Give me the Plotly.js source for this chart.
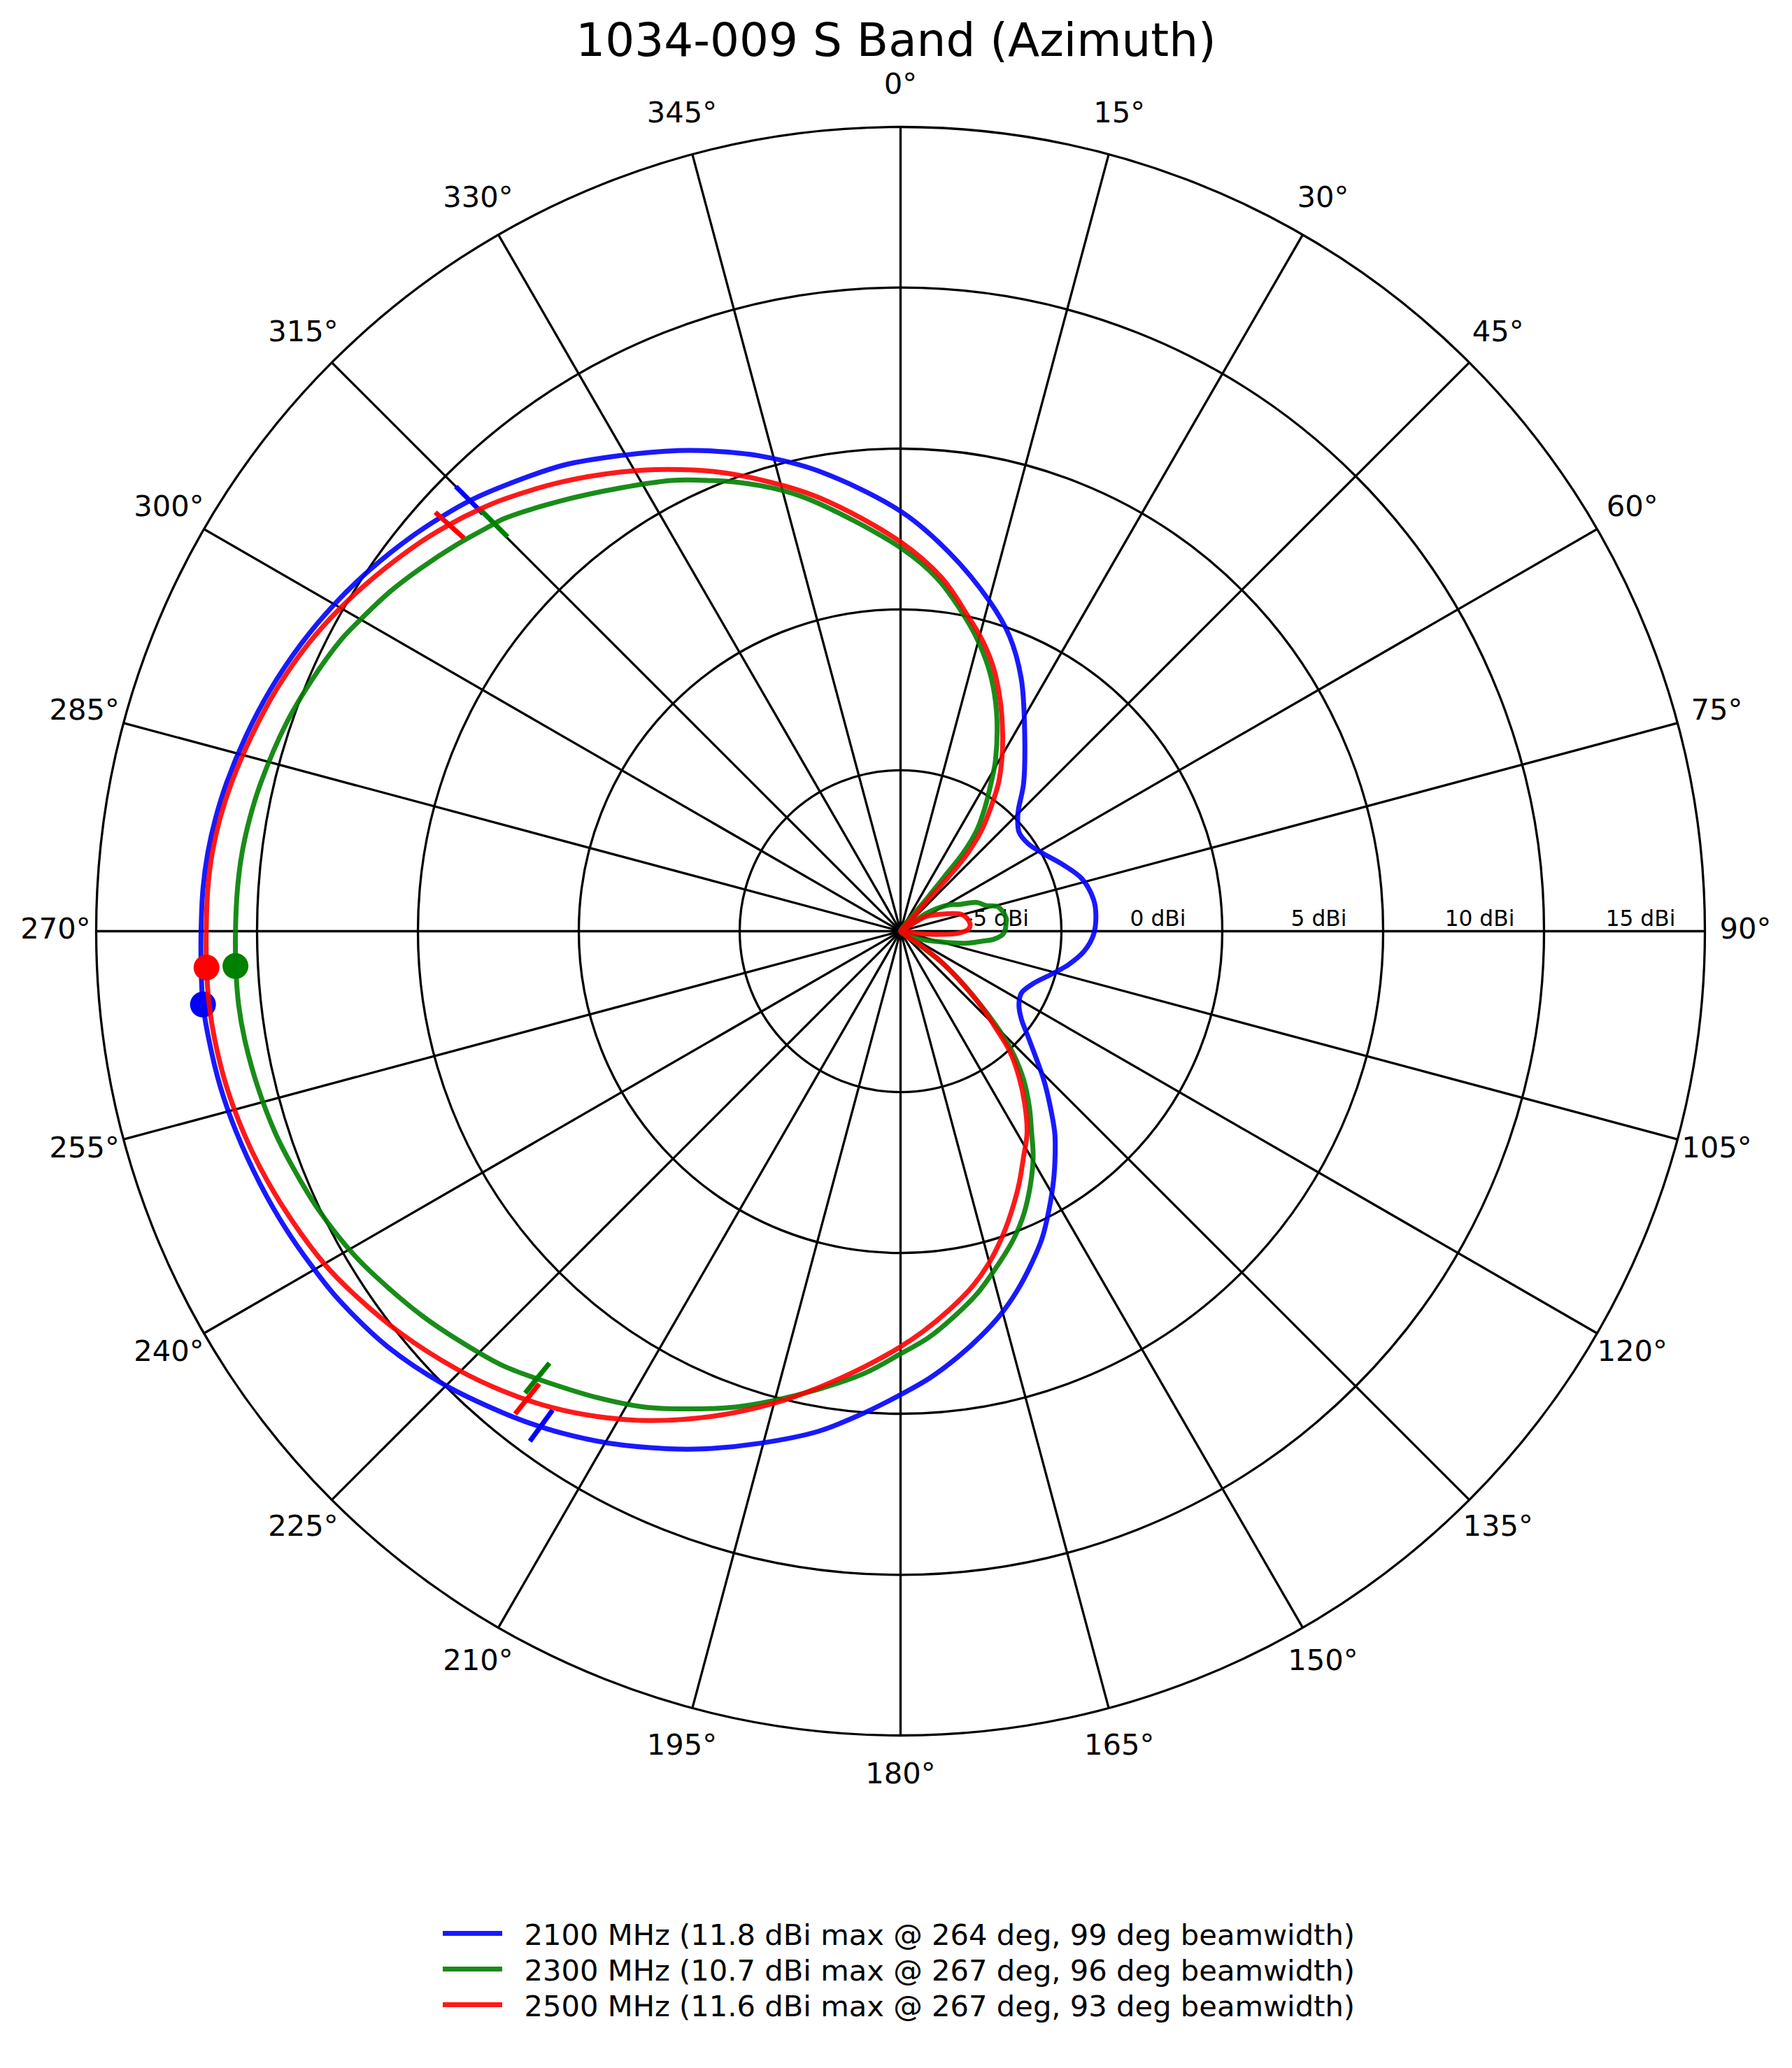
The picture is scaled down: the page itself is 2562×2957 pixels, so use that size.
<!DOCTYPE html>
<html>
<head>
<meta charset="utf-8">
<script src="https://cdn.plot.ly/plotly-3.0.1.min.js"></script>
<style>html,body{margin:0;padding:0;background:#fff;}#chart{width:2562px;height:2957px;}</style>
</head>
<body>
<div id="chart"></div>
<script>
// ---------------- data ----------------
const chartTitle = "1034-009 S Band (Azimuth)";
const angleTicks = [0,15,30,45,60,75,90,105,120,135,150,165,180,195,210,225,240,255,270,285,300,315,330,345];
const radialTickVals = [-5, 0, 5, 10, 15];
const radialTickText = ["-5 dBi", "0 dBi", "5 dBi", "10 dBi", "15 dBi"];
const seriesNames = [
  "2100 MHz (11.8 dBi max @ 264 deg, 99 deg beamwidth)",
  "2300 MHz (10.7 dBi max @ 267 deg, 96 deg beamwidth)",
  "2500 MHz (11.6 dBi max @ 267 deg, 93 deg beamwidth)"
];

// 2100 MHz  (azimuth deg, gain dBi)
const theta2100 = [0.1,7.3,15.1,20.3,25.5,31.0,39.7,44.9,50.1,55.6,61.1,67.8,73.9,80.7,85.6,91.0,96.2,101.4,105.9,111.6,117.1,121.8,125.9,129.7,132.8,136.0,139.0,142.6,145.5,148.5,151.9,155.2,158.8,162.1,165.4,168.7,172.3,176.2,180.1,184.2,189.3,195.3,201.0,204.3,209.7,214.0,217.3,219.6,225.0,231.0,236.7,239.9,244.0,248.5,253.2,257.2,261.1,264.0,266.8,270.0,273.5,276.4,279.3,282.4,286.6,290.9,295.6,300.0,304.2,309.0,312.5,314.9,318.3,324.1,329.5,335.2,338.7,343.5,349.9,360.1];
const gain2100  = [3.04,1.87,0.62,-0.23,-1.29,-2.52,-4.01,-4.83,-5.2,-5.19,-4.97,-4.54,-4.13,-3.92,-3.91,-4.0,-4.26,-4.69,-5.12,-5.57,-5.78,-5.67,-5.37,-4.84,-4.29,-3.6,-2.95,-2.11,-1.52,-0.9,-0.2,0.5,1.16,1.76,2.32,2.82,3.35,3.91,4.42,5.0,5.75,6.5,7.24,7.65,8.32,8.82,9.18,9.42,9.98,10.52,10.88,11.03,11.22,11.4,11.57,11.69,11.76,11.8,11.77,11.74,11.72,11.67,11.58,11.45,11.23,10.98,10.66,10.32,9.96,9.52,9.18,8.94,8.54,7.88,7.16,6.46,6.02,5.41,4.53,3.04];

// 2300 MHz
const theta2300 = [0,5.9,11.7,15.3,19.5,23.8,29.0,31.4,34.2,37.0,38.7,38.8,38.9,47,55.2,61.5,65.2,69.4,73.4,75.9,83.1,85.6,89.4,92.0,95.0,97.1,100.5,106.0,113.8,120,126.4,127.2,129.8,133.1,135.1,137.1,140.3,143.8,147.0,149.5,152.8,156.5,160.0,164.2,168.1,172.2,176.1,180.1,184.6,190.2,195.3,199.0,203.8,208.4,213.1,217.8,222.2,225.0,231.1,236.6,239.9,244.5,248.7,252.1,256.5,260.6,263.7,266.9,270.0,273.7,276.8,279.8,283.1,288.6,293.0,297.6,300.0,303.7,307.1,311.0,314.9,316.1,321.8,327.7,333.1,336.2,340.0,345.1,349.1,360];
const gain2300  = [1.92,1.03,-0.05,-0.73,-1.59,-2.6,-3.91,-4.6,-5.32,-6.05,-6.89,-7.82,-8.75,-10,-9.05,-8.28,-8.02,-7.46,-7.22,-6.88,-6.69,-6.71,-6.75,-6.83,-7.1,-7.46,-7.95,-8.85,-9.46,-10,-9.21,-8.38,-7.57,-6.45,-5.65,-4.91,-4.02,-3.22,-2.52,-1.88,-1.16,-0.4,0.22,0.88,1.52,2.11,2.67,3.15,3.78,4.47,5.14,5.64,6.23,6.81,7.3,7.78,8.28,8.53,9.07,9.52,9.78,10.06,10.26,10.42,10.56,10.66,10.7,10.69,10.67,10.65,10.61,10.53,10.41,10.16,9.9,9.6,9.38,9.05,8.7,8.3,7.9,7.79,7.03,6.3,5.71,5.32,4.85,4.17,3.55,1.92];

// 2500 MHz
const theta2500 = [0,6.7,12.0,15.5,19.3,23.5,27.7,30.6,33.5,36.0,38.7,40.7,41.5,41.2,41.7,50,59.8,69.3,75.4,83.4,88.1,92.0,94.7,97.7,112,125.2,126.7,129.6,133.0,135.5,137.7,140.9,144.4,147.9,151.3,154.9,158.2,161.4,165.1,168.6,172.7,176.7,180.1,184.7,190.1,195.2,201.1,207.1,212.0,216.3,220.9,225.4,231.3,236.5,240.0,245.2,249.8,253.0,257.1,261.0,264.0,267.0,270.0,273.6,276.5,279.4,282.5,286.8,291.2,295.9,300.0,304.1,308.9,312.0,315.1,317.5,322.9,328.6,333.2,337.9,342.7,349.3,360];
const gain2500  = [2.1,1.05,0.03,-0.57,-1.29,-2.22,-3.17,-3.82,-4.49,-5.21,-5.96,-6.8,-7.73,-8.7,-9.37,-10,-9.1,-8.47,-8.0,-7.83,-7.88,-8.21,-8.78,-9.43,-10,-9.31,-8.48,-7.67,-6.55,-5.78,-4.96,-4.16,-3.36,-2.6,-2.03,-1.32,-0.67,-0.03,0.68,1.27,1.87,2.45,2.93,3.58,4.4,5.22,6.16,7.09,7.79,8.36,8.9,9.38,9.95,10.4,10.68,10.98,11.22,11.36,11.5,11.58,11.61,11.6,11.58,11.57,11.53,11.44,11.3,11.06,10.8,10.46,10.1,9.7,9.22,8.88,8.52,8.22,7.5,6.72,6.08,5.42,4.7,3.72,2.1];

// peak gain markers
const peakTheta = [264, 267, 267];
const peakGain  = [11.8, 10.7, 11.6];

// -3 dB beamwidth edges
const bwTheta2100 = [216.0, 315.0], bwGain2100 = [9.0, 8.95];
const bwTheta2300 = [219.1, 315.1], bwGain2300 = [7.9, 7.9];
const bwTheta2500 = [218.6, 312.0], bwGain2500 = [8.6, 8.86];

// ---------------- styling ----------------
const FONT = "DejaVu Sans, Verdana, sans-serif";
const lineColors = ["rgba(0,0,255,0.9)", "rgba(0,128,0,0.9)", "rgba(255,0,0,0.9)"];
const solidColors = ["#0000ff", "#008000", "#ff0000"];
const CURVE_W = 7;
const GRID_W = 3.3;
const BW_HALF = 0.6;          // half length of beamwidth tick (dB)
const LABEL_SHIFT = 2;        // radial tick label offset (dB)

const W = 2562, H = 2957;
const CX = 1287.5, CY = 1331.5;
const RMIN = -10, RMAX = 15;          // visible gain range (centre .. outer ring)
const R_PX = 1150;                    // outer ring radius in px
const PX_PER_DB = R_PX / (RMAX - RMIN);
const ANGLE_LABEL_PAD = 58;           // px from outer ring to angle label centre
const angleLabelR = RMAX + ANGLE_LABEL_PAD / PX_PER_DB;
const RANGE_MAX = RMAX + 2;           // axis range extends a bit so the labels stay inside it
const RD = (RANGE_MAX - RMIN) * PX_PER_DB;   // polar domain radius

const curves = [[theta2100, gain2100], [theta2300, gain2300], [theta2500, gain2500]];
const bws = [[bwTheta2100, bwGain2100], [bwTheta2300, bwGain2300], [bwTheta2500, bwGain2500]];
const legendIds = ["legend", "legend2", "legend3"];
const legendRowY = [2765, 2816, 2867];

const traces = [];

// angular grid (spokes) from centre to the outer ring
const spokeR = [], spokeT = [];
angleTicks.forEach(a => { spokeR.push(RMIN, RMAX, null); spokeT.push(a, a, null); });
traces.push({
  type: "scatterpolar", mode: "lines", r: spokeR, theta: spokeT,
  line: {color: "black", width: GRID_W}, connectgaps: false,
  showlegend: false, hoverinfo: "skip"
});

// radial tick labels
traces.push({
  type: "scatterpolar", mode: "text",
  r: radialTickVals.map(v => v - LABEL_SHIFT),
  theta: radialTickVals.map(() => 90),
  text: radialTickText,
  textposition: "top center",
  textfont: {family: FONT, size: 31.25, color: "black"},
  marker: {size: 2},
  showlegend: false, hoverinfo: "skip", cliponaxis: false
});
// angular tick labels (centred at a fixed distance outside the outer ring)
traces.push({
  type: "scatterpolar", mode: "text",
  r: angleTicks.map(() => angleLabelR),
  theta: angleTicks,
  text: angleTicks.map(a => a + "°"),
  textposition: "middle center",
  textfont: {family: FONT, size: 41.67, color: "black"},
  showlegend: false, hoverinfo: "skip", cliponaxis: false
});

for (let i = 0; i < 3; i++) {
  traces.push({
    type: "scatterpolar", mode: "lines",
    name: "\u00a0\u00a0" + seriesNames[i],
    legend: legendIds[i],
    r: curves[i][1], theta: curves[i][0],
    line: {color: lineColors[i], width: CURVE_W, shape: "spline", smoothing: 1},
    showlegend: true, hoverinfo: "skip", cliponaxis: false
  });
  traces.push({
    type: "scatterpolar", mode: "markers",
    r: [peakGain[i]], theta: [peakTheta[i]],
    marker: {color: solidColors[i], size: 37, line: {width: 0}},
    showlegend: false, hoverinfo: "skip"
  });
  const bt = bws[i][0], bg = bws[i][1];
  for (let k = 0; k < bt.length; k++) {
    traces.push({
      type: "scatterpolar", mode: "lines",
      r: [bg[k] - BW_HALF, bg[k] + BW_HALF], theta: [bt[k], bt[k]],
      line: {color: solidColors[i], width: CURVE_W},
      showlegend: false, hoverinfo: "skip"
    });
  }
}

function legendBox(rowY) {
  return {
    x: 628 / W, y: 1 - rowY / H, xanchor: "left", yanchor: "middle",
    orientation: "v",
    font: {family: FONT, size: 41.67, color: "black"},
    bgcolor: "rgba(0,0,0,0)", borderwidth: 0,
    itemwidth: 85
  };
}

const layout = {
  width: W, height: H,
  margin: {l: 0, r: 0, t: 0, b: 0},
  paper_bgcolor: "white",
  font: {family: FONT, color: "black", size: 41.67},
  title: {
    text: chartTitle,
    font: {family: FONT, size: 66, color: "black"},
    x: 0.5, xanchor: "center", y: 1 - 57 / H, yanchor: "middle"
  },
  showlegend: true,
  legend: legendBox(legendRowY[0]),
  legend2: legendBox(legendRowY[1]),
  legend3: legendBox(legendRowY[2]),
  polar: {
    domain: {x: [(CX - RD) / W, (CX + RD) / W], y: [1 - (CY + RD) / H, 1 - (CY - RD) / H]},
    bgcolor: "rgba(0,0,0,0)",
    angularaxis: {
      rotation: 90, direction: "clockwise",
      tickmode: "array", tickvals: angleTicks,
      showticklabels: false, showline: false, showgrid: false, ticks: ""
    },
    radialaxis: {
      range: [RMIN, RANGE_MAX],
      tickmode: "array", tickvals: radialTickVals,
      showticklabels: false, showline: false, ticks: "",
      showgrid: true, gridcolor: "black", gridwidth: GRID_W,
      angle: 0, layer: "below traces"
    }
  }
};

Plotly.newPlot("chart", traces, layout, {staticPlot: true, displayModeBar: false});
</script>
</body>
</html>
